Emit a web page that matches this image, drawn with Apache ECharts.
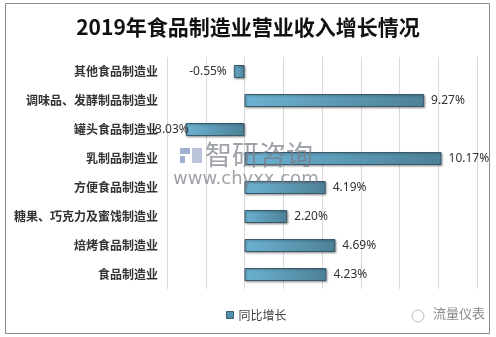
<!DOCTYPE html>
<html>
<head>
<meta charset="utf-8">
<script src="https://cdn.jsdelivr.net/npm/echarts@6/dist/echarts.min.js"></script>
<style>
html,body{margin:0;padding:0;background:#fff;}
#chart{width:496px;height:337px;}
</style>
</head>
<body>
<div id="chart"></div>
<script>
// 2019年食品制造业各子行业营业收入同比增长（%）
const categories = [
  '其他食品制造业',
  '调味品、发酵制品制造业',
  '罐头食品制造业',
  '乳制品制造业',
  '方便食品制造业',
  '糖果、巧克力及蜜饯制造业',
  '焙烤食品制造业',
  '食品制造业'
];
const growth = [-0.55, 9.27, -3.03, 10.17, 4.19, 2.20, 4.69, 4.23];
const seriesName = '同比增长';
const titleText = '2019年食品制造业营业收入增长情况';

const chart = echarts.init(document.getElementById('chart'), null, {renderer: 'canvas'});

const barFill = new echarts.graphic.LinearGradient(0, 0, 1, 0, [
  {offset: 0, color: '#6cb2d2'},
  {offset: 1, color: '#4c8197'}
]);

// negative bars carry their label on the left; a long one tucks it in against the axis labels
const seriesData = growth.map(v => {
  const item = {value: v};
  if (v < 0) {
    item.label = {position: 'left', distance: v < -2 ? -3 : 7};
  }
  return item;
});

const markGray = 'rgba(120,125,135,0.72)';

chart.setOption({
  animation: false,
  backgroundColor: '#fff',
  title: {
    text: titleText,
    left: 'center',
    top: 12,
    textStyle: {
      fontFamily: '"Noto Sans CJK SC", sans-serif',
      fontSize: 21,
      fontWeight: 'bold',
      color: '#111'
    }
  },
  legend: {
    bottom: 11,
    left: 221,
    itemWidth: 7,
    itemHeight: 7,
    itemGap: 4,
    icon: 'rect',
    data: [{name: seriesName, itemStyle: {color: '#4f8fb0', borderColor: '#3b5d6e', borderWidth: 1}}],
    textStyle: {
      fontFamily: '"Noto Sans CJK SC", sans-serif',
      fontSize: 12,
      color: '#444',
      padding: [0, 0, 0, 0]
    }
  },
  grid: {
    left: 167,
    right: 19,
    top: 57,
    bottom: 48,
    containLabel: false
  },
  xAxis: {
    type: 'value',
    min: -4,
    max: 12,
    interval: 2,
    axisLabel: {show: false},
    axisLine: {show: false},
    axisTick: {show: false},
    splitLine: {lineStyle: {color: '#d9d9d9', width: 1}}
  },
  yAxis: {
    type: 'category',
    data: categories,
    inverse: true,
    position: 'left',
    offset: 0,
    axisLine: {show: false},
    axisTick: {show: false},
    axisLabel: {
      margin: 9,
      fontFamily: '"Noto Sans CJK SC", sans-serif',
      fontSize: 12,
      fontWeight: 'bold',
      color: '#333'
    }
  },
  series: [{
    name: seriesName,
    type: 'bar',
    data: seriesData,
    barWidth: 13,
    itemStyle: {
      color: barFill,
      borderColor: '#3a5a6b',
      borderWidth: 1,
      shadowColor: 'rgba(0,0,0,0.3)',
      shadowBlur: 2,
      shadowOffsetX: 1,
      shadowOffsetY: 1
    },
    label: {
      show: true,
      position: 'right',
      distance: 7,
      fontFamily: '"Noto Sans", sans-serif',
      fontSize: 12,
      color: '#333',
      formatter: p => p.value.toFixed(2) + '%'
    }
  }],
  graphic: [
    // outer frame
    {
      type: 'rect',
      shape: {x: 5.5, y: 3.5, width: 484, height: 330},
      style: {fill: 'none', stroke: '#8c8c8c', lineWidth: 1},
      silent: true
    },
    // publisher mark, drawn over the bars
    {type: 'rect', z: 200, silent: true, shape: {x: 180, y: 148, width: 10, height: 6}, style: {fill: 'rgba(130,150,195,0.75)'}},
    {type: 'rect', z: 200, silent: true, shape: {x: 180, y: 156, width: 5, height: 7}, style: {fill: 'rgba(130,150,195,0.75)'}},
    {type: 'rect', z: 200, silent: true, shape: {x: 192, y: 148, width: 10, height: 15}, style: {fill: 'rgba(150,165,200,0.65)'}},
    {type: 'text', z: 200, silent: true, style: {x: 205, y: 141, text: '智研咨询', fill: markGray, font: '27px "Noto Sans CJK SC", sans-serif'}},
    {type: 'text', z: 200, silent: true, style: {x: 173, y: 170, text: 'www.chyxx.com', fill: markGray, font: '18px "DejaVu Sans", sans-serif'}},
    {
      type: 'text',
      left: 433,
      top: 307,
      silent: true,
      style: {text: '流量仪表', fill: '#8a8a8a', font: '13px "Noto Sans CJK SC", sans-serif'}
    },
    {
      type: 'circle',
      shape: {cx: 418, cy: 316, r: 6},
      silent: true,
      style: {fill: 'none', stroke: '#bbb', lineWidth: 1}
    }
  ]
});
</script>
</body>
</html>
